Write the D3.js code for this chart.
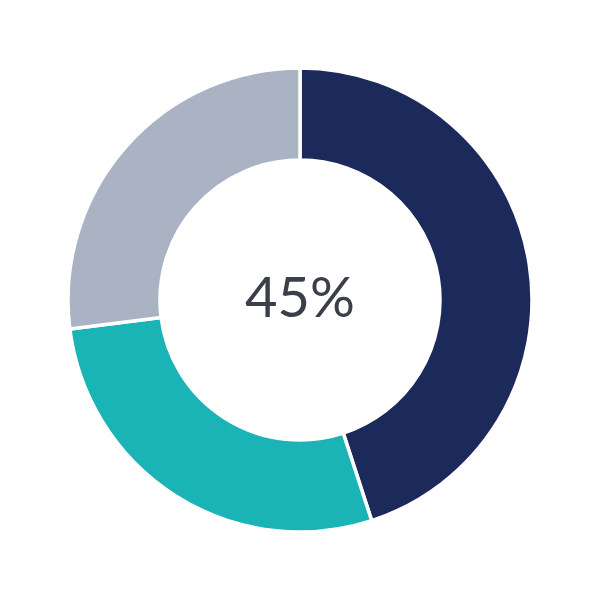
<!DOCTYPE html>
<html>
<head>
<meta charset="utf-8">
<script src="https://cdn.jsdelivr.net/npm/d3@7"></script>
<style>
  body { margin: 0; background: #fff; }
</style>
</head>
<body>
<svg id="chart"></svg>
<script>
var categories = ["A", "B", "C"];
var values = [45, 28, 27];
var colors = ["#1b2a5b", "#1ab4b7", "#a9b3c3"];
var centerLabel = "45%";

var width = 600, height = 600;
var outerR = 232, innerR = 140;

var svg = d3.select("#chart")
    .attr("width", width)
    .attr("height", height);

var g = svg.append("g")
    .attr("transform", "translate(" + width / 2 + "," + height / 2 + ")");

var pie = d3.pie().sort(null).value(function(d) { return d; });
var arc = d3.arc().innerRadius(innerR).outerRadius(outerR);

// slices
g.selectAll("path")
    .data(pie(values))
    .enter().append("path")
    .attr("d", arc)
    .style("fill", function(d, i) { return colors[i]; })
    .style("stroke", "#fff")
    .style("stroke-width", 3.5);

// center text
g.append("text")
    .attr("x", 0)
    .attr("y", 0)
    .attr("dy", ".3em")
    .attr("text-anchor", "middle")
    .style("font-family", "Lato, sans-serif")
    .style("font-size", "56px")
    .style("fill", "#3a3f4a")
    .text(centerLabel);
</script>
</body>
</html>
